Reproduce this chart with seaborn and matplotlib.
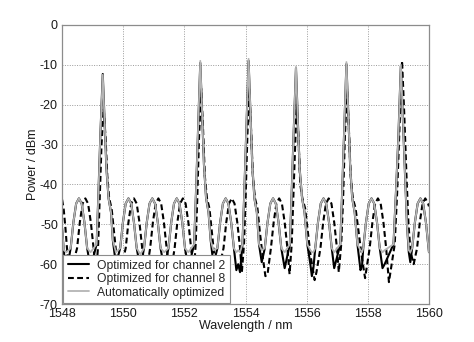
import matplotlib
matplotlib.use("Agg")
import matplotlib.pyplot as plt
import seaborn as sns
import pandas as pd

# ---- data (wavelength in nm, power in dBm) ----
wl_ch2 = [
    1548.00, 1548.06, 1548.14,
    1548.28, 1548.37, 1548.46, 1548.55, 1548.64, 1548.73, 1548.82,
    1548.93,
    1549.13, 1549.19, 1549.25, 1549.33, 1549.39, 1549.45, 1549.52, 1549.60, 1549.66,
    1549.76,
    1549.90, 1549.99, 1550.08, 1550.17, 1550.26, 1550.35, 1550.44,
    1550.56,
    1550.68, 1550.77, 1550.86, 1550.95, 1551.04, 1551.13, 1551.22,
    1551.34,
    1551.48, 1551.57, 1551.66, 1551.75, 1551.84, 1551.93, 1552.02,
    1552.13,
    1552.32, 1552.38, 1552.44, 1552.52, 1552.58, 1552.64, 1552.71, 1552.79, 1552.86,
    1552.95,
    1553.08, 1553.17, 1553.26, 1553.35, 1553.44, 1553.53, 1553.62,
    1553.70, 1553.76, 1553.82,
    1553.90, 1553.96, 1554.02, 1554.10, 1554.16, 1554.22, 1554.29, 1554.37, 1554.44,
    1554.53,
    1554.63, 1554.72, 1554.81, 1554.90, 1554.99, 1555.08, 1555.17,
    1555.28,
    1555.45, 1555.51, 1555.57, 1555.65, 1555.71, 1555.77, 1555.85, 1555.93, 1556.02,
    1556.12, 1556.17, 1556.22,
    1556.28, 1556.37, 1556.46, 1556.55, 1556.64, 1556.73, 1556.82,
    1556.90,
    1557.10, 1557.16, 1557.22, 1557.30, 1557.36, 1557.42, 1557.49, 1557.57, 1557.66,
    1557.76, 1557.81,
    1557.85, 1557.94, 1558.03, 1558.12, 1558.21, 1558.30, 1558.39,
    1558.48, 1558.55,
    1558.84, 1558.92, 1559.00, 1559.08, 1559.15, 1559.22, 1559.28, 1559.34,
    1559.39,
    1559.45, 1559.54, 1559.63, 1559.72, 1559.81, 1559.90, 1560.00,
]
p_ch2 = [
    -51, -57, -62,
    -56, -49.5, -44.8, -43.5, -44.8, -49.5, -56,
    -61,
    -55, -42, -28, -12.3, -24, -36, -43.5, -47, -54,
    -60,
    -56, -49.5, -44.8, -43.5, -44.8, -49.5, -56,
    -61,
    -56, -49.5, -44.8, -43.5, -44.8, -49.5, -56,
    -61,
    -56, -49.5, -44.8, -43.5, -44.8, -49.5, -56,
    -61,
    -55, -42, -28, -9.5, -22, -35, -43.5, -47, -54,
    -60,
    -56, -49.5, -44.8, -43.5, -44.8, -49.5, -56,
    -61.5, -60, -62,
    -55, -42, -28, -9.0, -22, -35, -43.5, -47, -55,
    -59.5,
    -56, -49.5, -44.8, -43.5, -44.8, -49.5, -56,
    -61,
    -55, -42, -28, -10.8, -24, -36, -43.5, -47, -55,
    -60, -63, -61,
    -56, -49.5, -44.8, -43.5, -44.8, -49.5, -56,
    -61,
    -55, -42, -28, -9.8, -22, -35, -43.5, -47, -55,
    -61.5, -60.5,
    -56, -49.5, -44.8, -43.5, -44.8, -49.5, -56,
    -61, -60,
    -55, -42, -28, -10.3, -24, -38, -50, -57,
    -59.5,
    -56, -49.5, -44.8, -43.5, -44.8, -49.5, -57,
]

wl_ch8 = [
    1548.00, 1548.05, 1548.11, 1548.17, 1548.25,
    1548.49, 1548.58, 1548.67, 1548.76, 1548.85, 1548.94, 1549.03,
    1549.11,
    1549.18, 1549.23, 1549.29, 1549.36, 1549.42, 1549.48, 1549.54, 1549.62, 1549.70, 1549.78,
    1549.87,
    1550.08, 1550.17, 1550.26, 1550.35, 1550.44, 1550.53, 1550.62,
    1550.74,
    1550.88, 1550.97, 1551.06, 1551.15, 1551.24, 1551.33, 1551.42,
    1551.54,
    1551.68, 1551.77, 1551.86, 1551.95, 1552.04, 1552.13, 1552.22,
    1552.30,
    1552.37, 1552.42, 1552.48, 1552.55, 1552.61, 1552.67, 1552.74, 1552.82, 1552.90, 1552.98,
    1553.08,
    1553.28, 1553.37, 1553.46, 1553.55, 1553.64, 1553.73, 1553.82,
    1553.88,
    1553.95, 1554.00, 1554.06, 1554.12, 1554.18, 1554.24, 1554.31, 1554.39, 1554.47, 1554.56,
    1554.65, 1554.72,
    1554.83, 1554.92, 1555.01, 1555.10, 1555.19, 1555.28, 1555.37,
    1555.44,
    1555.51, 1555.56, 1555.62, 1555.67, 1555.73, 1555.79, 1555.86, 1555.95, 1556.04, 1556.13,
    1556.26, 1556.32,
    1556.45, 1556.54, 1556.63, 1556.72, 1556.81, 1556.90, 1556.99,
    1557.05,
    1557.13, 1557.19, 1557.25, 1557.32, 1557.38, 1557.44, 1557.51, 1557.60, 1557.70, 1557.80,
    1557.91,
    1558.06, 1558.15, 1558.24, 1558.33, 1558.42, 1558.51, 1558.60,
    1558.69,
    1558.88, 1558.96, 1559.04, 1559.12, 1559.19, 1559.26, 1559.33, 1559.40,
    1559.50,
    1559.61, 1559.70, 1559.79, 1559.88, 1559.97, 1560.00,
]
p_ch8 = [
    -43.8, -46, -51, -57, -63,
    -56, -49.5, -44.8, -43.5, -44.8, -49.5, -56,
    -63,
    -55, -44, -30, -21, -28, -38, -43.5, -46, -52, -58,
    -63,
    -56, -49.5, -44.8, -43.5, -44.8, -49.5, -56,
    -63,
    -56, -49.5, -44.8, -43.5, -44.8, -49.5, -56,
    -63,
    -56, -49.5, -44.8, -43.5, -44.8, -49.5, -56,
    -63,
    -55, -44, -28, -16, -26, -38, -43.5, -46, -52, -58,
    -63,
    -56, -49.5, -44.8, -43.5, -44.8, -49.5, -56,
    -62,
    -55, -44, -28, -16, -26, -38, -43.5, -46, -52, -58,
    -63, -62.5,
    -56, -49.5, -44.8, -43.5, -44.8, -49.5, -56,
    -62.5,
    -55, -44, -30, -20, -28, -40, -43.5, -46, -52, -58,
    -64, -62,
    -56, -49.5, -44.8, -43.5, -44.8, -49.5, -56,
    -62,
    -55, -44, -28, -16, -26, -38, -43.5, -46, -52, -58,
    -63.5,
    -56, -49.5, -44.8, -43.5, -44.8, -49.5, -56,
    -64.5,
    -55, -42, -25, -9.0, -22, -37, -50, -57,
    -60,
    -56, -49.5, -44.8, -43.5, -44.8, -45.5,
]

wl_auto = wl_ch2
p_auto = [
    -51, -56.5, -57,
    -56, -49.5, -44.8, -43.5, -44.8, -49.5, -56,
    -57,
    -55, -42, -28, -12.5, -24, -36, -43.5, -47, -54,
    -57,
    -56, -49.5, -44.8, -43.5, -44.8, -49.5, -56,
    -57.5,
    -56, -49.5, -44.8, -43.5, -44.8, -49.5, -56,
    -57,
    -56, -49.5, -44.8, -43.5, -44.8, -49.5, -56,
    -57,
    -55, -42, -28, -9.0, -22, -35, -43.5, -47, -54,
    -56.5,
    -56, -49.5, -44.8, -43.5, -44.8, -49.5, -56,
    -57, -56.5, -57,
    -55, -42, -28, -8.5, -22, -35, -43.5, -47, -55,
    -56.5,
    -56, -49.5, -44.8, -43.5, -44.8, -49.5, -56,
    -57,
    -55, -42, -28, -10.5, -24, -36, -43.5, -47, -55,
    -56.5, -57, -57,
    -56, -49.5, -44.8, -43.5, -44.8, -49.5, -56,
    -57,
    -55, -42, -28, -9.3, -22, -35, -43.5, -47, -55,
    -56.5, -57,
    -56, -49.5, -44.8, -43.5, -44.8, -49.5, -56,
    -57, -56.5,
    -55, -42, -28, -10.0, -24, -38, -50, -56.5,
    -57,
    -56, -49.5, -44.8, -43.5, -44.8, -49.5, -57,
]

series_names = ["Optimized for channel 2", "Optimized for channel 8", "Automatically optimized"]
x_ticks = [1548, 1550, 1552, 1554, 1556, 1558, 1560]
y_ticks = [-70, -60, -50, -40, -30, -20, -10, 0]

# ---- figure ----
sns.set_style("white")
plt.rcParams["font.family"] = ["Liberation Sans", "DejaVu Sans"]
plt.rcParams["axes.unicode_minus"] = False

fig = plt.figure(figsize=(4.74, 3.42), dpi=100)
ax = fig.add_axes([0.131, 0.111, 0.774, 0.816])

df2 = pd.DataFrame({"wl": wl_ch2, "p": p_ch2})
df8 = pd.DataFrame({"wl": wl_ch8, "p": p_ch8})
dfa = pd.DataFrame({"wl": wl_auto, "p": p_auto})

sns.lineplot(data=df2, x="wl", y="p", sort=False, ax=ax, color="black",
             linewidth=1.5, label=series_names[0])
sns.lineplot(data=df8, x="wl", y="p", sort=False, ax=ax, color="black",
             linewidth=1.5, linestyle=(0, (2.8, 1.6)), label=series_names[1])
sns.lineplot(data=dfa, x="wl", y="p", sort=False, ax=ax, color="#b4b4b4",
             linewidth=1.3, label=series_names[2])

ax.set_xlim(1548, 1560)
ax.set_ylim(-70, 0)
ax.set_xticks(x_ticks)
ax.set_yticks(y_ticks)
ax.set_xticklabels([str(t) for t in x_ticks])
ax.set_yticklabels([str(t) for t in y_ticks])
ax.grid(True, color="#9a9a9a", linestyle=(0, (1, 1.5)), linewidth=0.7)
ax.set_axisbelow(True)
for s in ax.spines.values():
    s.set_color("#8c8c8c")
    s.set_linewidth(0.9)
ax.tick_params(axis="both", direction="in", length=3, color="#8c8c8c",
               labelsize=9, pad=3, labelcolor="#1a1a1a")
ax.set_xlabel("Wavelength / nm", fontsize=9, labelpad=0, color="#1a1a1a")
ax.set_ylabel("Power / dBm", fontsize=9, labelpad=1, color="#1a1a1a")

leg = ax.legend(loc="lower left", fontsize=8.7, frameon=True, fancybox=False,
                borderpad=0.35, handlelength=1.75, handletextpad=0.7,
                labelspacing=0.12, borderaxespad=0.1, framealpha=1)
leg.get_frame().set_edgecolor("#8c8c8c")
leg.get_frame().set_linewidth(0.8)

fig.savefig("out.png", dpi=100, facecolor="white")
